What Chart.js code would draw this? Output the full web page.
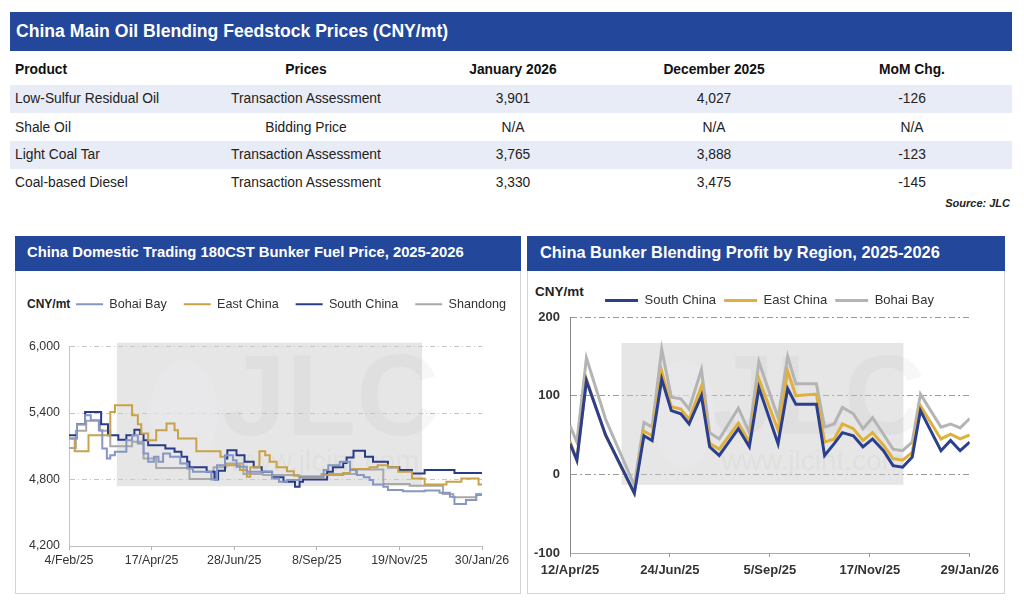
<!DOCTYPE html>
<html>
<head>
<meta charset="utf-8">
<script src="https://cdn.jsdelivr.net/npm/chart.js@4.4.1/dist/chart.umd.min.js"></script>
<style>
  html, body { margin: 0; padding: 0; }
  body { width: 1024px; height: 603px; background: #fff; position: relative; overflow: hidden;
         font-family: "Liberation Sans", Arial, sans-serif; color: #222; }
  .abs { position: absolute; }
  .bar { background: #22479b; color: #fff; font-weight: bold; white-space: nowrap; }
  .cell { position: absolute; white-space: nowrap; font-size: 13.8px; height: 18px; line-height: 18px; }
  .hdr { font-weight: bold; font-size: 13.8px; color: #111; }
  .panel { position: absolute; border: 1px solid #d4d4d4; box-sizing: border-box; background: #fff; }
  canvas { position: absolute; }
</style>
</head>
<body>

<!-- Table -->
<div class="abs bar" style="left:10px;top:12px;width:1002px;height:39px;line-height:39px;font-size:17.6px;padding-left:6px;box-sizing:border-box;">China Main Oil Blending Feedstock Prices (CNY/mt)</div>
<div id="table"></div>
<div class="abs" style="right:14px;top:197px;font-size:11px;font-weight:bold;font-style:italic;color:#222;">Source: JLC</div>

<!-- Left panel -->
<div class="panel" style="left:15px;top:236px;width:506px;height:358px;"></div>
<div class="abs bar" style="left:15px;top:236px;width:506px;height:35px;line-height:33px;font-size:14.8px;padding-left:12px;box-sizing:border-box;">China Domestic Trading 180CST Bunker Fuel Price, 2025-2026</div>
<div class="abs" style="left:27px;top:296px;font-size:12px;font-weight:bold;color:#222;line-height:16px;">CNY/mt</div>
<canvas id="leftChart" width="545" height="322" style="left:15px;top:271px;"></canvas>

<!-- Right panel -->
<div class="panel" style="left:527px;top:236px;width:478px;height:358px;"></div>
<div class="abs bar" style="left:527px;top:236px;width:478px;height:35px;line-height:33px;font-size:16.4px;padding-left:13px;box-sizing:border-box;">China Bunker Blending Profit by Region, 2025-2026</div>
<div class="abs" style="left:535px;top:283px;font-size:13.5px;font-weight:bold;color:#222;line-height:18px;">CNY/mt</div>
<canvas id="rightChart" width="478" height="322" style="left:527px;top:271px;"></canvas>

<script>
// ---------- Table data ----------
const tableHeaders = ['Product', 'Prices', 'January 2026', 'December 2025', 'MoM Chg.'];
const tableProducts = ['Low-Sulfur Residual Oil', 'Shale Oil', 'Light Coal Tar', 'Coal-based Diesel'];
const tablePriceTypes = ['Transaction Assessment', 'Bidding Price', 'Transaction Assessment', 'Transaction Assessment'];
const tableJan2026 = ['3,901', 'N/A', '3,765', '3,330'];
const tableDec2025 = ['4,027', 'N/A', '3,888', '3,475'];
const tableMoM = ['-126', 'N/A', '-123', '-145'];

// ---------- Left chart data (day offsets from 4/Feb/25, CNY/mt) ----------
const leftDateLabels = ['4/Feb/25', '17/Apr/25', '28/Jun/25', '8/Sep/25', '19/Nov/25', '30/Jan/26'];
const priceTicks = [4200, 4800, 5400, 6000];

const bohaiDays   = [0, 7, 14, 19, 26, 29, 33, 36, 40, 50, 55, 60, 65, 69, 74, 78, 82, 88, 97, 103, 108, 124, 129, 136, 143, 146, 155, 177, 183, 190, 201, 222, 226, 236, 245, 251, 257, 262, 265, 274, 278, 291, 310, 323, 332, 336, 346, 355, 360];
const bohaiPrices = [5170, 5300, 5380, 5335, 5245, 5080, 4990, 5020, 5050, 5155, 5200, 5125, 5035, 4960, 5005, 4960, 5035, 5005, 4945, 4900, 4870, 4800, 4930, 5020, 4975, 4915, 4870, 4810, 4780, 4795, 4820, 4885, 4930, 4960, 4885, 4840, 4820, 4795, 4755, 4735, 4705, 4695, 4700, 4680, 4645, 4580, 4615, 4660, 4660];

const eastDays   = [0, 5, 17, 36, 40, 55, 60, 63, 69, 76, 85, 92, 95, 111, 132, 136, 149, 155, 158, 166, 171, 175, 181, 190, 196, 201, 221, 239, 245, 262, 269, 278, 287, 299, 310, 329, 342, 357, 360];
const eastPrices = [5170, 5055, 5200, 5410, 5470, 5380, 5300, 5215, 5155, 5245, 5305, 5245, 5170, 5055, 5005, 4930, 4885, 4825, 4910, 5055, 5020, 4960, 4910, 4875, 4835, 4820, 4840, 4860, 4895, 4910, 4930, 4910, 4870, 4810, 4755, 4780, 4810, 4755, 4755];

const southDays   = [0, 7, 14, 28, 34, 43, 50, 57, 62, 65, 69, 84, 92, 98, 103, 105, 120, 127, 130, 136, 138, 146, 153, 161, 168, 177, 187, 197, 201, 204, 225, 230, 239, 242, 248, 258, 265, 278, 288, 299, 310, 336, 360];
const southPrices = [5200, 5300, 5410, 5300, 5200, 5160, 5200, 5250, 5210, 5155, 5110, 5080, 5050, 5005, 4960, 4910, 4870, 4800, 4880, 4990, 5065, 5020, 4960, 4910, 4870, 4820, 4780, 4735, 4780, 4800, 4870, 4910, 4950, 5000, 5060, 5005, 4960, 4910, 4885, 4855, 4885, 4860, 4860];

const shandongDays   = [0, 6, 15, 27, 36, 47, 55, 65, 76, 105, 126, 137, 152, 169, 200, 220, 250, 274, 297, 326, 335, 355, 360];
const shandongPrices = [5085, 5240, 5330, 5240, 5100, 5100, 5140, 4990, 4905, 4805, 4910, 4945, 4850, 4840, 4830, 4850, 4890, 4760, 4745, 4670, 4640, 4670, 4670];

// ---------- Right chart data (day offsets from 12/Apr/25, CNY/mt) ----------
const rightDateLabels = ['12/Apr/25', '24/Jun/25', '5/Sep/25', '17/Nov/25', '29/Jan/26'];
const profitTicks = [-100, 0, 100, 200];
const profitDays    = [0, 5, 12, 26, 47, 54, 60, 67, 74, 81, 87, 96, 102, 109, 123, 131, 138, 152, 159, 165, 180, 186, 193, 199, 207, 214, 221, 229, 236, 243, 250, 256, 271, 278, 285, 292];
const profitSouth   = [39, 18, 119, 50, -24, 49, 43, 121, 81, 77, 64, 100, 35, 24, 58, 35, 110, 39, 109, 89, 89, 24, 39, 53, 49, 35, 45, 30, 11, 9, 22, 81, 30, 43, 30, 41];
const profitEast    = [42, 18, 121, 49, -24, 55, 49, 131, 86, 83, 70, 112, 39, 32, 65, 41, 121, 56, 131, 100, 102, 41, 45, 64, 58, 43, 53, 37, 20, 18, 28, 87, 45, 51, 45, 50];
const profitBohai   = [62, 41, 148, 70, -14, 66, 60, 159, 98, 96, 83, 133, 53, 45, 84, 53, 143, 72, 150, 115, 115, 60, 64, 85, 77, 58, 72, 51, 32, 30, 41, 102, 60, 64, 59, 71];

// ---------- Build table ----------
(function () {
  const host = document.getElementById('table');
  const colCenters = [null, 306, 513, 714, 912];
  const rowCenters = [99, 128, 155, 183];
  const shaded = [0, 2];
  shaded.forEach(i => {
    const d = document.createElement('div');
    d.className = 'abs';
    d.style.cssText = `left:10px;width:1002px;top:${rowCenters[i] - 14}px;height:28px;background:#e8ecf6;`;
    host.appendChild(d);
  });
  function put(text, rowY, col, cls) {
    const d = document.createElement('div');
    d.className = 'cell' + (cls ? ' ' + cls : '');
    d.textContent = text;
    if (col === 0) {
      d.style.left = '15px';
    } else {
      d.style.left = (colCenters[col] - 110) + 'px';
      d.style.width = '220px';
      d.style.textAlign = 'center';
    }
    d.style.top = (rowY - 9) + 'px';
    host.appendChild(d);
  }
  tableHeaders.forEach((h, c) => put(h, 70, c, 'hdr'));
  tableProducts.forEach((p, r) => {
    const y = rowCenters[r];
    put(p, y, 0);
    put(tablePriceTypes[r], y, 1);
    put(tableJan2026[r], y, 2);
    put(tableDec2025[r], y, 3);
    put(tableMoM[r], y, 4);
  });
})();

// ---------- Chart helpers ----------
Chart.defaults.font.family = '"Liberation Sans", Arial, sans-serif';
Chart.defaults.color = '#333';

const watermark = {
  id: 'watermark',
  beforeDatasetsDraw(chart, args, o) {
    const {ctx, chartArea: a} = chart;
    const x0 = a.left + o.x0 * a.width, x1 = a.left + o.x1 * a.width;
    const y0 = a.top + o.y0 * a.height, y1 = a.top + o.y1 * a.height;
    ctx.save();
    ctx.fillStyle = 'rgba(200,200,200,0.45)';
    ctx.fillRect(x0, y0, x1 - x0, y1 - y0);
    const w = x1 - x0, h = y1 - y0;
    ctx.fillStyle = 'rgba(235,235,240,0.55)';
    ctx.beginPath();
    ctx.ellipse(x0 + w * 0.22, y0 + h * 0.5, w * 0.11, h * 0.38, 0, 0, Math.PI * 2);
    ctx.fill();
    ctx.fillStyle = 'rgba(150,150,150,0.08)';
    ctx.font = `bold ${Math.round(h * 0.8)}px "Liberation Sans", Arial, sans-serif`;
    ctx.textBaseline = 'middle';
    ctx.textAlign = 'center';
    ctx.fillText('JLC', x0 + w * 0.7, y0 + h * 0.42);
    ctx.font = `${Math.round(h * 0.2)}px "Liberation Sans", Arial, sans-serif`;
    ctx.fillText('www.jlcint.com', x0 + w * 0.68, y0 + h * 0.84);
    ctx.restore();
  }
};

function toPoints(days, vals) { return days.map((d, i) => ({x: d, y: vals[i]})); }

function lineLegendLabels(chart) {
  return Chart.defaults.plugins.legend.labels.generateLabels(chart).map(l => Object.assign(l, {lineWidth: 0}));
}

function stepSet(label, days, vals, color) {
  return {label, data: toPoints(days, vals), borderColor: color, backgroundColor: color,
          borderWidth: 2, pointRadius: 0, stepped: true, fill: false, xAxisID: 'x', yAxisID: 'y'};
}
function lineSet(label, days, vals, color) {
  return {label, data: toPoints(days, vals), borderColor: color, backgroundColor: color,
          borderWidth: 3, pointRadius: 0, tension: 0, fill: false, xAxisID: 'x', yAxisID: 'y'};
}

// ---------- Left chart ----------
new Chart(document.getElementById('leftChart'), {
  type: 'line',
  data: {
    datasets: [
      stepSet('Bohai Bay', bohaiDays, bohaiPrices, '#8797c4'),
      stepSet('East China', eastDays, eastPrices, '#c9a247'),
      stepSet('South China', southDays, southPrices, '#2a3b87'),
      stepSet('Shandong', shandongDays, shandongPrices, '#a8a8a8')
    ]
  },
  options: {
    responsive: false,
    animation: false,
    layout: {padding: {left: 9, right: 2, top: 10, bottom: 0}},
    plugins: {
      legend: {align: 'center', labels: {boxWidth: 27, boxHeight: 2, padding: 17, font: {size: 12.6}, color: '#333', generateLabels: lineLegendLabels}},
      tooltip: {enabled: false},
      watermark: {x0: 0.116, x1: 0.855, y0: -0.02, y1: 0.70}
    },
    scales: {
      x: {
        type: 'linear', min: 0, max: 360,
        afterFit: s => { s.height = 47; },
        ticks: {stepSize: 72, autoSkip: false, maxRotation: 0, padding: 3, font: {size: 12.4}, color: '#333',
                callback: v => leftDateLabels[Math.round(v / 72)]},
        grid: {drawOnChartArea: false, drawTicks: true, tickLength: 4, color: '#b0b0b0'},
        border: {color: '#bdbdbd'}
      },
      y: {
        min: priceTicks[0], max: priceTicks[priceTicks.length - 1],
        afterFit: s => { s.width = 45; },
        ticks: {stepSize: priceTicks[1] - priceTicks[0], padding: 9, font: {size: 12.4}, color: '#333'},
        grid: {drawTicks: false, color: c => (c.tick && c.tick.value === priceTicks[0]) ? 'rgba(0,0,0,0)' : '#c6c6c6'},
        border: {color: '#c4c4c4', dash: [5, 3, 1, 3]}
      },
      xTop: {type: 'linear', position: 'top', display: true, afterFit: s => { s.height = 26; },
             ticks: {display: false}, grid: {display: false}, border: {display: false}},
      yRight: {type: 'linear', position: 'right', display: true, afterFit: s => { s.width = 76; },
               ticks: {display: false}, grid: {display: false}, border: {display: false}}
    }
  },
  plugins: [watermark]
});

// ---------- Right chart ----------
new Chart(document.getElementById('rightChart'), {
  type: 'line',
  data: {
    datasets: [
      lineSet('South China', profitDays, profitSouth, '#2b3f8f'),
      lineSet('East China', profitDays, profitEast, '#e0b03c'),
      lineSet('Bohai Bay', profitDays, profitBohai, '#b4b4b4')
    ]
  },
  options: {
    responsive: false,
    animation: false,
    layout: {padding: {left: 7, right: 0, top: 15, bottom: 0}},
    plugins: {
      legend: {align: 'center', labels: {boxWidth: 33, boxHeight: 3, padding: 8, font: {size: 13}, color: '#333', generateLabels: lineLegendLabels}},
      tooltip: {enabled: false},
      watermark: {x0: 0.129, x1: 0.834, y0: 0.11, y1: 0.711}
    },
    scales: {
      x: {
        type: 'linear', min: 0, max: 292,
        afterFit: s => { s.height = 40; },
        ticks: {stepSize: 73, autoSkip: false, maxRotation: 0, padding: 6, font: {size: 13, weight: 'bold'}, color: '#333',
                callback: v => rightDateLabels[Math.round(v / 73)]},
        grid: {drawOnChartArea: false, drawTicks: true, tickLength: 4, color: '#999'},
        border: {color: '#aaa'}
      },
      y: {
        min: profitTicks[0], max: profitTicks[profitTicks.length - 1],
        afterFit: s => { s.width = 36; },
        ticks: {stepSize: profitTicks[1] - profitTicks[0], padding: 10, font: {size: 13, weight: 'bold'}, color: '#333'},
        grid: {drawTicks: false, color: c => (c.tick && c.tick.value === profitTicks[0]) ? 'rgba(0,0,0,0)' : '#9a9a9a'},
        border: {color: '#888', dash: [6, 3, 2, 3]}
      },
      yRight: {type: 'linear', position: 'right', display: true, afterFit: s => { s.width = 28; },
               ticks: {display: false}, grid: {display: false}, border: {display: false}}
    }
  },
  plugins: [watermark]
});
</script>
</body>
</html>
